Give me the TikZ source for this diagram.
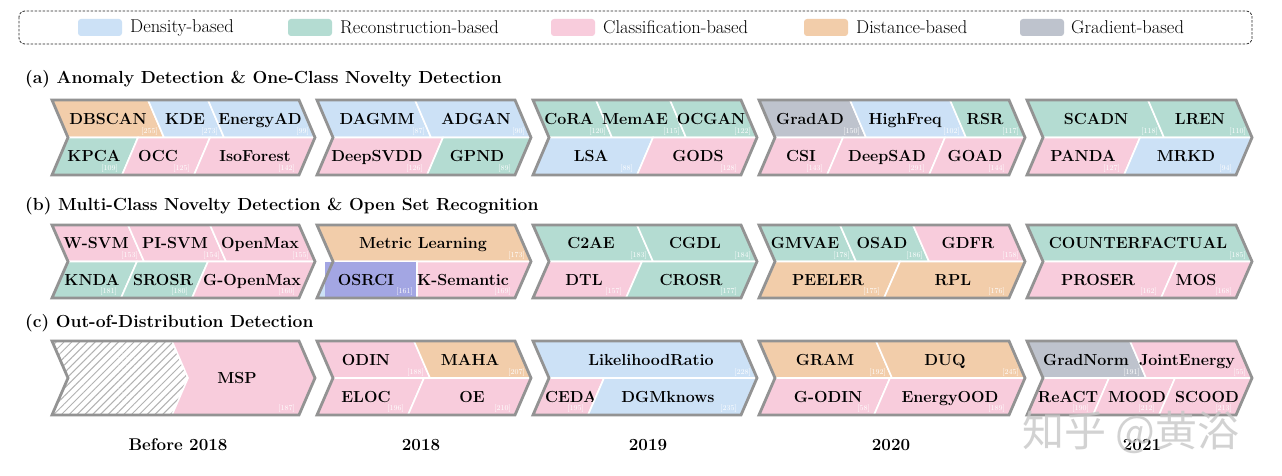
\documentclass[tikz,border=0pt]{standalone}
\usepackage{fontspec}
\newfontfamily\cjkfont{Noto Sans CJK SC}
\usetikzlibrary{patterns.meta}
\definecolor{cBlue}{HTML}{CCE1F6}
\definecolor{cGreen}{HTML}{B4DCD2}
\definecolor{cPink}{HTML}{F8CCDC}
\definecolor{cOrange}{HTML}{F2CDAA}
\definecolor{cGray}{HTML}{BEC3CD}
\definecolor{cPurple}{HTML}{A3A6E3}
\definecolor{cBorder}{HTML}{939393}
\newcounter{cc}
\def\sl{16}
\tikzset{
  lab/.style={font=\fontsize{16}{16}\selectfont\bfseries, inner sep=0, anchor=base},
  citetext/.style={font=\fontsize{7.5}{7.5}\selectfont, text=white, inner sep=0, anchor=south east},
  cellsep/.style={draw=white, line width=1.6pt, line join=miter},
  chevline/.style={draw=cBorder, line width=2.8pt, line join=miter},
  swatch/.style={rounded corners=3pt, minimum width=44pt, minimum height=17pt, inner sep=0},
  legtext/.style={font=\fontsize{18.5}{18.5}\selectfont, inner sep=0, anchor=west},
  ttl/.style={font=\fontsize{17.5}{17.5}\selectfont\bfseries, inner sep=0, anchor=west},
  yr/.style={font=\fontsize{17}{17}\selectfont\bfseries, inner sep=0},
}
% top cell: color, xa(top), xb(top), label, label x, cite
\newcommand\tcell[6]{%
  \stepcounter{cc}%
  \filldraw[fill=#1, cellsep] (#2,\rT) -- (#3,\rT) -- ({#3+\sl},\rM) -- ({#2+\sl},\rM) -- cycle;
  \node[lab] (L\arabic{cc}) at (#5,{(\rT+\rM)/2+5.5}) {#4};
  \node[citetext] (C\arabic{cc}) at ({#3+\sl-6},{\rM-1.5}) {[#6]};
}
% bottom cell: color, ca(mid), cb(mid), label, label x, cite
\newcommand\bcell[6]{%
  \stepcounter{cc}%
  \filldraw[fill=#1, cellsep] (#2,\rM) -- (#3,\rM) -- ({#3-\sl},\rB) -- ({#2-\sl},\rB) -- cycle;
  \node[lab] (L\arabic{cc}) at (#5,{(\rM+\rB)/2+5.5}) {#4};
  \node[citetext] (C\arabic{cc}) at ({#3-\sl-4},{\rB-2.5}) {[#6]};
}
% chevron outline: x0, W
\newcommand\chev[2]{%
  \draw[chevline] (#1,\rT) -- ({#1+#2},\rT) -- ({#1+#2+\sl},\rM) -- ({#1+#2},\rB) -- (#1,\rB) -- ({#1+\sl},\rM) -- cycle;
}
\begin{document}
\begin{tikzpicture}[x=1pt,y=-1pt]
\useasboundingbox (0,0) rectangle (1282,476);
\fill[white] (0,0) rectangle (1282,476);

% ---------- legend ----------
\draw[black!85, line width=0.8pt, dash pattern=on 2.5pt off 1.5pt, rounded corners=6pt] (19,11) rectangle (1252,44);
\node[swatch, fill=cBlue] (sw1) at (100,27.5) {};
\node[legtext] (lg1) at (130,27.5) {Density-based};
\node[swatch, fill=cGreen] (sw2) at (310,27.5) {};
\node[legtext] (lg2) at (340,27.5) {Reconstruction-based};
\node[swatch, fill=cPink] (sw3) at (573,27.5) {};
\node[legtext] (lg3) at (603,27.5) {Classification-based};
\node[swatch, fill=cOrange] (sw4) at (826,27.5) {};
\node[legtext] (lg4) at (856,27.5) {Distance-based};
\node[swatch, fill=cGray] (sw5) at (1042,27.5) {};
\node[legtext] (lg5) at (1071,27.5) {Gradient-based};

% ---------- titles ----------
\node[ttl] (ta) at (25,79) {(a) Anomaly Detection \& One-Class Novelty Detection};
\node[ttl] (tb) at (25,206) {(b) Multi-Class Novelty Detection \& Open Set Recognition};
\node[ttl] (tc) at (25,323) {(c) Out-of-Distribution Detection};

% ================= ROW A =================
\def\rT{100}\def\rM{137.5}\def\rB{175}
% col 1
\tcell{cOrange}{52}{148}{DBSCAN}{108}{255}
\tcell{cBlue}{148}{208}{KDE}{185}{273}
\tcell{cBlue}{208}{299}{EnergyAD}{260}{99}
\bcell{cGreen}{68}{138}{KPCA}{94}{109}
\bcell{cPink}{138}{210}{OCC}{158}{125}
\bcell{cPink}{210}{315}{IsoForest}{255}{142}
\chev{52}{247}
% col 2
\tcell{cBlue}{317}{415}{DAGMM}{377}{87}
\tcell{cBlue}{415}{515}{ADGAN}{476}{90}
\bcell{cPink}{333}{443}{DeepSVDD}{377}{126}
\bcell{cGreen}{443}{531}{GPND}{477}{89}
\chev{317}{198}
% col 3
\tcell{cGreen}{533}{596}{CoRA}{569}{120}
\tcell{cGreen}{596}{670}{MemAE}{635}{115}
\tcell{cGreen}{670}{741}{OCGAN}{711}{122}
\bcell{cBlue}{549}{653}{LSA}{591}{88}
\bcell{cPink}{653}{757}{GODS}{698}{128}
\chev{533}{208}
% col 4
\tcell{cGray}{759}{850}{GradAD}{810}{150}
\tcell{cBlue}{850}{950}{HighFreq}{905}{102}
\tcell{cGreen}{950}{1009}{RSR}{985}{117}
\bcell{cPink}{775}{843}{CSI}{801}{143}
\bcell{cPink}{843}{945}{DeepSAD}{887}{291}
\bcell{cPink}{945}{1025}{GOAD}{975}{144}
\chev{759}{250}
% col 5
\tcell{cGreen}{1027}{1148}{SCADN}{1096}{118}
\tcell{cGreen}{1148}{1236}{LREN}{1200}{110}
\bcell{cPink}{1043}{1140}{PANDA}{1083}{127}
\bcell{cBlue}{1140}{1252}{MRKD}{1186}{94}
\chev{1027}{209}

% ================= ROW B =================
\def\rT{225}\def\rM{261.5}\def\rB{298}
% col 1
\tcell{cPink}{52}{128}{W-SVM}{96}{153}
\tcell{cPink}{128}{210}{PI-SVM}{175}{154}
\tcell{cPink}{210}{299}{OpenMax}{260}{155}
\bcell{cGreen}{68}{137}{KNDA}{92}{181}
\bcell{cGreen}{137}{208}{SROSR}{163}{180}
\bcell{cPink}{208}{315}{G-OpenMax}{252}{160}
\chev{52}{247}
% col 2
\tcell{cOrange}{317}{515}{Metric Learning}{423}{173}
\filldraw[fill=cBlue, cellsep] (333,\rM) -- (417,\rM) -- (417,\rB) -- (317,\rB) -- cycle;
\fill[cPurple] (325,{\rM+0.8}) rectangle (417,\rB);
\filldraw[fill=cPink, cellsep] (417,\rM) -- (531,\rM) -- (515,\rB) -- (417,\rB) -- cycle;
\node[lab] (osrci) at (366,{(\rM+\rB)/2+5.5}) {OSRCI};
\node[citetext] (cosrci) at (413,{\rB-2.5}) {[161]};
\node[lab] (ksem) at (463,{(\rM+\rB)/2+5.5}) {K-Semantic};
\node[citetext] (cksem) at (511,{\rB-2.5}) {[169]};
\chev{317}{198}
% col 3
\tcell{cGreen}{533}{637}{C2AE}{591}{183}
\tcell{cGreen}{637}{741}{CGDL}{695}{184}
\bcell{cPink}{549}{642}{DTL}{584}{157}
\bcell{cGreen}{642}{757}{CROSR}{691}{177}
\chev{533}{208}
% col 4
\tcell{cGreen}{759}{840}{GMVAE}{805}{178}
\tcell{cGreen}{840}{913}{OSAD}{882}{186}
\tcell{cPink}{913}{1009}{GDFR}{968}{158}
\bcell{cOrange}{775}{900}{PEELER}{828}{175}
\bcell{cOrange}{900}{1025}{RPL}{953}{176}
\chev{759}{250}
% col 5
\tcell{cGreen}{1027}{1236}{COUNTERFACTUAL}{1138}{185}
\bcell{cPink}{1043}{1177}{PROSER}{1098}{162}
\bcell{cPink}{1177}{1252}{MOS}{1196}{168}
\chev{1027}{209}

% ================= ROW C =================
\def\rT{341}\def\rM{378}\def\rB{415}
% col 1
\fill[white] (52,\rT) -- (172,\rT) -- (188,\rM) -- (172,\rB) -- (52,\rB) -- (68,\rM) -- cycle;
\fill[pattern={Lines[angle=45,distance=5.5pt,line width=1pt]}, pattern color=black!30] (52,\rT) -- (172,\rT) -- (188,\rM) -- (172,\rB) -- (52,\rB) -- (68,\rM) -- cycle;
\filldraw[fill=cPink, cellsep] (172,\rT) -- (299,\rT) -- (315,\rM) -- (299,\rB) -- (172,\rB) -- (188,\rM) -- cycle;
\node[lab] (msp) at (237,{\rM+5.5}) {MSP};
\node[citetext] (cmsp) at (295,{\rB-2.5}) {[187]};
\chev{52}{247}
% col 2
\tcell{cPink}{317}{414}{ODIN}{366}{188}
\tcell{cOrange}{414}{515}{MAHA}{470}{207}
\bcell{cPink}{333}{424}{ELOC}{366}{196}
\bcell{cPink}{424}{531}{OE}{472}{210}
\chev{317}{198}
% col 3
\tcell{cBlue}{533}{741}{LikelihoodRatio}{651}{228}
\bcell{cPink}{549}{604}{CEDA}{571}{195}
\bcell{cBlue}{604}{757}{DGMknows}{668}{235}
\chev{533}{208}
% col 4
\tcell{cOrange}{759}{876}{GRAM}{825}{192}
\tcell{cOrange}{876}{1009}{DUQ}{945}{245}
\bcell{cPink}{775}{890}{G-ODIN}{828}{58}
\bcell{cPink}{890}{1025}{EnergyOOD}{950}{189}
\chev{759}{250}
% col 5
\tcell{cGray}{1027}{1130}{GradNorm}{1086}{191}
\tcell{cPink}{1130}{1236}{JointEnergy}{1187}{55}
\bcell{cPink}{1043}{1109}{ReACT}{1068}{190}
\bcell{cPink}{1109}{1175}{MOOD}{1137}{212}
\bcell{cPink}{1175}{1252}{SCOOD}{1207}{213}
\chev{1027}{209}

% ---------- years ----------
\node[yr] (y1) at (178,445) {Before 2018};
\node[yr] (y2) at (421,445) {2018};
\node[yr] (y3) at (648,445) {2019};
\node[yr] (y4) at (891,445) {2020};
\node[yr] (y5) at (1142,445) {2021};

% ---------- watermark ----------
\node[inner sep=0, text=black!22, opacity=0.8, font=\cjkfont\fontsize{42}{42}\selectfont] (wmk) at (1131,432) {知乎 @黄浴};
\end{tikzpicture}
\end{document}
